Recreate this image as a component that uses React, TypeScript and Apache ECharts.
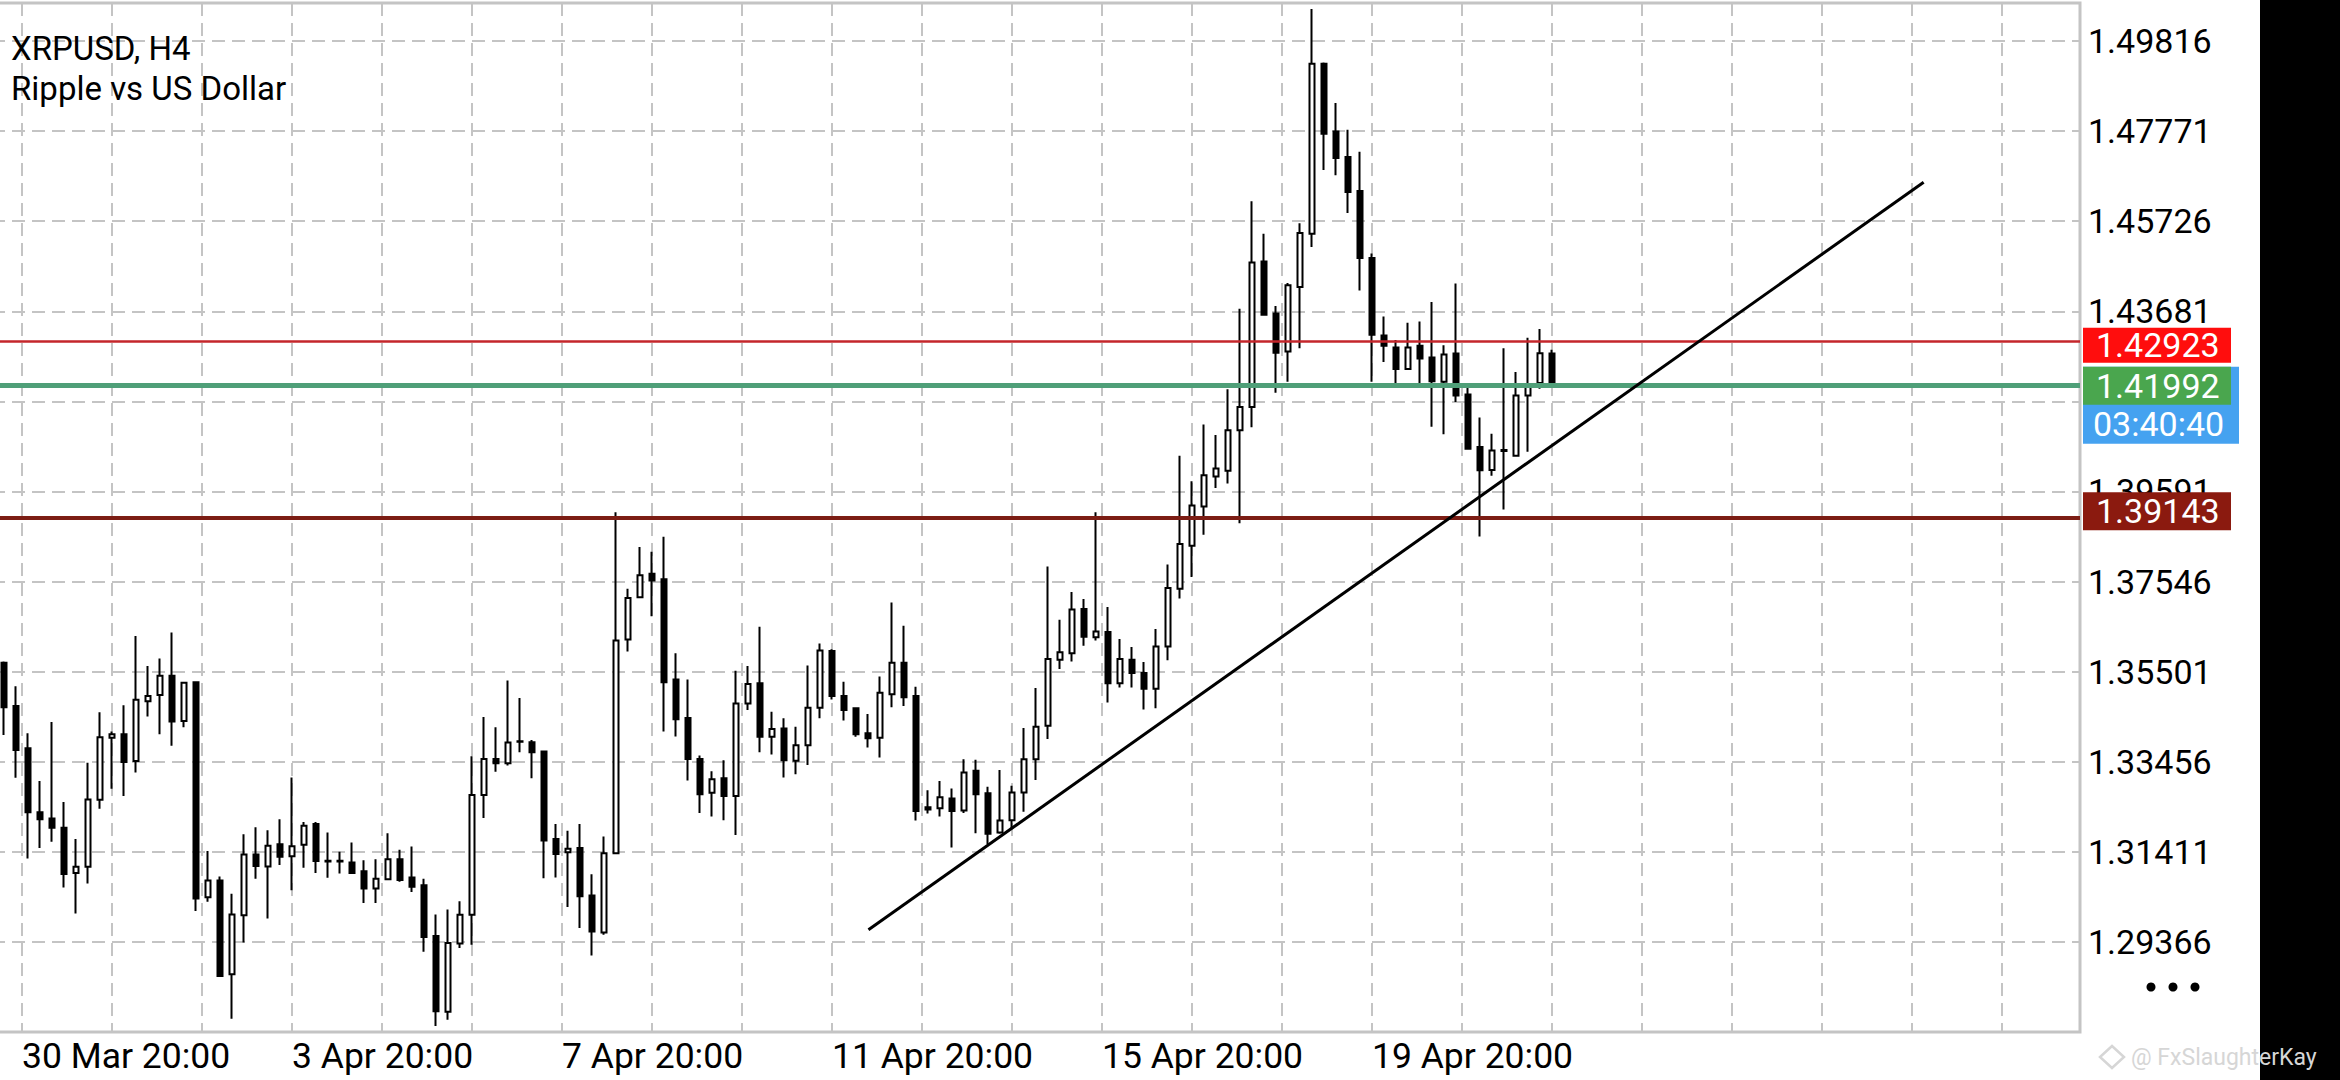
import React, { useEffect, useRef } from 'react';
import * as echarts from 'echarts';

// ---- Candle values (H4 bars, left to right) ----
const OPEN = [
  1.3570, 1.3472, 1.3376, 1.3231, 1.3217, 1.3196, 1.3093, 1.3107, 1.3259, 1.3400,
  1.3408, 1.3347, 1.3483, 1.3497, 1.3541, 1.3438, 1.3526, 1.3038, 1.3076, 1.2863,
  1.2997, 1.3135, 1.3108, 1.3158, 1.3131, 1.3157, 1.3204, 1.3121, 1.3121, 1.3117,
  1.3097, 1.3058, 1.3079, 1.3124, 1.3083, 1.3065, 1.2950, 1.2778, 1.2933, 1.2998,
  1.3270, 1.3352, 1.3342, 1.3391, 1.3390, 1.3369, 1.3170, 1.3140, 1.3150, 1.3042,
  1.2958, 1.3138, 1.3623, 1.3719, 1.3772, 1.3760, 1.3532, 1.3445, 1.3352, 1.3275,
  1.3308, 1.3268, 1.3478, 1.3524, 1.3402, 1.3421, 1.3348, 1.3383, 1.3468, 1.3597,
  1.3495, 1.3467, 1.3410, 1.3400, 1.3499, 1.3570, 1.3495, 1.3242, 1.3240, 1.3262,
  1.3235, 1.3325, 1.3274, 1.3185, 1.3213, 1.3276, 1.3351, 1.3427, 1.3577, 1.3592,
  1.3692, 1.3628, 1.3640, 1.3524, 1.3577, 1.3547, 1.3511, 1.3607, 1.3738, 1.3836,
  1.3925, 1.3993, 1.4006, 1.4098, 1.4151, 1.4481, 1.4363, 1.4277, 1.4423, 1.4544,
  1.4930, 1.4776, 1.4718, 1.4641, 1.4489, 1.4313, 1.4286, 1.4237, 1.4290, 1.4263,
  1.4208, 1.4272, 1.4179, 1.4060, 1.4008, 1.4053, 1.4040, 1.4177, 1.4205, 1.4272,
];
const CLOSE = [
  1.3469, 1.3372, 1.3231, 1.3215, 1.3196, 1.3091, 1.3107, 1.3260, 1.3401, 1.3408,
  1.3345, 1.3486, 1.3495, 1.3541, 1.3437, 1.3525, 1.3035, 1.3076, 1.2859, 1.2999,
  1.3135, 1.3109, 1.3155, 1.3130, 1.3154, 1.3200, 1.3120, 1.3119, 1.3119, 1.3093,
  1.3058, 1.3080, 1.3124, 1.3077, 1.3062, 1.2948, 1.2779, 1.2934, 1.2998, 1.3270,
  1.3352, 1.3342, 1.3389, 1.3392, 1.3367, 1.3167, 1.3136, 1.3148, 1.3040, 1.2960,
  1.3138, 1.3621, 1.3717, 1.3769, 1.3757, 1.3526, 1.3442, 1.3352, 1.3272, 1.3306,
  1.3268, 1.3478, 1.3522, 1.3402, 1.3420, 1.3349, 1.3383, 1.3468, 1.3598, 1.3495,
  1.3463, 1.3408, 1.3399, 1.3502, 1.3570, 1.3492, 1.3234, 1.3237, 1.3265, 1.3234,
  1.3321, 1.3272, 1.3182, 1.3212, 1.3276, 1.3351, 1.3425, 1.3579, 1.3594, 1.3691,
  1.3629, 1.3641, 1.3524, 1.3579, 1.3547, 1.3511, 1.3607, 1.3740, 1.3840, 1.3927,
  1.3996, 1.4011, 1.4098, 1.4151, 1.4479, 1.4360, 1.4274, 1.4427, 1.4546, 1.4930,
  1.4771, 1.4716, 1.4639, 1.4489, 1.4315, 1.4290, 1.4237, 1.4286, 1.4261, 1.4209,
  1.4270, 1.4177, 1.4056, 1.4007, 1.4052, 1.4051, 1.4177, 1.4196, 1.4273, 1.4199,
];
const LOW = [
  1.3406, 1.3309, 1.3126, 1.3150, 1.3164, 1.3060, 1.3001, 1.3069, 1.3239, 1.3284,
  1.3268, 1.3321, 1.3448, 1.3408, 1.3382, 1.3424, 1.3007, 1.3028, 1.2858, 1.2762,
  1.2935, 1.3080, 1.2990, 1.3111, 1.3054, 1.3105, 1.3093, 1.3082, 1.3092, 1.3092,
  1.3025, 1.3025, 1.3078, 1.3073, 1.3050, 1.2914, 1.2746, 1.2760, 1.2923, 1.2930,
  1.3218, 1.3323, 1.3337, 1.3367, 1.3308, 1.3081, 1.3083, 1.3016, 1.2968, 1.2906,
  1.2953, 1.3137, 1.3596, 1.3718, 1.3676, 1.3414, 1.3403, 1.3303, 1.3229, 1.3221,
  1.3213, 1.3179, 1.3463, 1.3367, 1.3362, 1.3310, 1.3317, 1.3338, 1.3444, 1.3487,
  1.3439, 1.3402, 1.3378, 1.3355, 1.3469, 1.3472, 1.3212, 1.3228, 1.3221, 1.3151,
  1.3229, 1.3183, 1.3159, 1.3182, 1.3194, 1.3232, 1.3304, 1.3397, 1.3556, 1.3573,
  1.3609, 1.3621, 1.3480, 1.3514, 1.3514, 1.3464, 1.3467, 1.3576, 1.3716, 1.3765,
  1.3861, 1.3967, 1.3977, 1.3887, 1.4105, 1.4359, 1.4183, 1.4208, 1.4284, 1.4514,
  1.4689, 1.4677, 1.4591, 1.4415, 1.4208, 1.4253, 1.4198, 1.4236, 1.4196, 1.4106,
  1.4089, 1.4162, 1.4055, 1.3857, 1.3995, 1.3918, 1.4039, 1.4049, 1.4192, 1.4199,
];
const HIGH = [
  1.3573, 1.3517, 1.3410, 1.3302, 1.3436, 1.3254, 1.3170, 1.3343, 1.3458, 1.3414,
  1.3474, 1.3631, 1.3563, 1.3580, 1.3639, 1.3526, 1.3527, 1.3143, 1.3085, 1.3046,
  1.3181, 1.3197, 1.3190, 1.3215, 1.3310, 1.3209, 1.3209, 1.3185, 1.3141, 1.3162,
  1.3122, 1.3124, 1.3183, 1.3146, 1.3153, 1.3080, 1.2999, 1.3010, 1.3029, 1.3358,
  1.3447, 1.3424, 1.3530, 1.3490, 1.3395, 1.3370, 1.3204, 1.3189, 1.3204, 1.3090,
  1.3176, 1.3912, 1.3738, 1.3833, 1.3822, 1.3856, 1.3592, 1.3532, 1.3360, 1.3324,
  1.3349, 1.3552, 1.3563, 1.3652, 1.3459, 1.3444, 1.3425, 1.3564, 1.3614, 1.3601,
  1.3527, 1.3468, 1.3454, 1.3539, 1.3707, 1.3654, 1.3516, 1.3281, 1.3302, 1.3285,
  1.3351, 1.3350, 1.3289, 1.3327, 1.3291, 1.3422, 1.3513, 1.3789, 1.3668, 1.3731,
  1.3715, 1.3912, 1.3697, 1.3624, 1.3606, 1.3572, 1.3647, 1.3793, 1.4040, 1.3982,
  1.4111, 1.4087, 1.4191, 1.4374, 1.4618, 1.4544, 1.4380, 1.4432, 1.4568, 1.5054,
  1.4933, 1.4841, 1.4780, 1.4730, 1.4499, 1.4356, 1.4303, 1.4342, 1.4345, 1.4389,
  1.4291, 1.4431, 1.4198, 1.4127, 1.4090, 1.4284, 1.4230, 1.4308, 1.4328, 1.4281,
];

// ---- Price axis ----
const Y_MIN = 1.27321;
const Y_MAX = 1.50678;
const Y_STEP = 0.02045;

// ---- Time axis (bar units) ----
const X_MIN = -6;
const X_MAX = 173;
const X_STEP = 7.5;
const TIME_TICKS = [1.5, 24, 46.5, 69, 91.5, 114];
const TIME_LABELS = ['30 Mar 20:00', '3 Apr 20:00', '7 Apr 20:00', '11 Apr 20:00', '15 Apr 20:00', '19 Apr 20:00'];

// ---- Drawn objects ----
const TREND_X = [72.04, 159.97];
const TREND_Y = [1.2964, 1.4661];
const RESISTANCE = 1.42923;
const BID = 1.41992;
const SUPPORT = 1.39143;
const TIMER = '03:40:40';
const HIDDEN_PRICE_LABELS = [1.41636];

const TITLE_LINES = ['XRPUSD, H4', 'Ripple vs US Dollar'];
const WATERMARK = '@ FxSlaughterKay';

const FONT = 'Roboto';
const SHIFT = 68; // the chart canvas starts left of the page so the first grid cell is cut

export default function App() {
  const ref = useRef<HTMLDivElement>(null);

  useEffect(() => {
    if (!ref.current) return;
    const chart = echarts.init(ref.current, undefined, { renderer: 'svg' });

    const candles = OPEN.map((o, i) => [i, o, CLOSE[i], LOW[i], HIGH[i]]);
    const trend = TREND_X.map((x, i) => [x, TREND_Y[i]]);

    const option: any = {
      animation: false,
      backgroundColor: '#ffffff',
      textStyle: { fontFamily: FONT },
      title: {
        text: TITLE_LINES.join('\n'),
        left: 11 + SHIFT,
        top: 28,
        padding: 0,
        textStyle: { fontSize: 33, lineHeight: 40, fontWeight: 'normal', color: '#000', fontFamily: FONT },
      },
      grid: {
        left: 0,
        top: 3,
        width: 2148,
        height: 1029,
        show: true,
        borderColor: '#c4c4c4',
        borderWidth: 3,
        backgroundColor: '#ffffff',
      },
      xAxis: {
        type: 'value',
        min: X_MIN,
        max: X_MAX,
        interval: X_STEP,
        axisLine: { show: false },
        axisTick: { show: false },
        splitLine: { show: true, lineStyle: { color: '#c4c4c4', width: 2, type: [13, 7] } },
        axisLabel: {
          showMinLabel: false,
          showMaxLabel: false,
          align: 'left',
          margin: 6,
          fontSize: 35.5,
          color: '#000',
          fontFamily: FONT,
          formatter: (v: number) => {
            const k = TIME_TICKS.findIndex((t) => Math.abs(t - v) < 0.01);
            return k >= 0 ? TIME_LABELS[k] : '';
          },
        },
      },
      yAxis: {
        type: 'value',
        position: 'right',
        min: Y_MIN,
        max: Y_MAX,
        interval: Y_STEP,
        axisLine: { show: false },
        axisTick: { show: false },
        splitLine: { show: true, lineStyle: { color: '#c4c4c4', width: 2, type: [13, 7] } },
        axisLabel: {
          showMinLabel: false,
          showMaxLabel: false,
          margin: 8,
          fontSize: 34,
          color: '#000',
          fontFamily: FONT,
          formatter: (v: number) =>
            HIDDEN_PRICE_LABELS.some((h) => Math.abs(h - v) < 1e-6) ? '' : v.toFixed(5),
        },
      },
      series: [
        {
          type: 'candlestick',
          data: candles,
          encode: { x: 0, y: [1, 2, 3, 4] },
          barWidth: 6,
          itemStyle: {
            color: '#ffffff',
            color0: '#000000',
            borderColor: '#000000',
            borderColor0: '#000000',
            borderColorDoji: '#000000',
            borderWidth: 2,
          },
          markLine: {
            silent: true,
            symbol: ['none', 'none'],
            label: { show: false },
            z: 5,
            data: [
              { yAxis: RESISTANCE, lineStyle: { color: '#c4262b', width: 2.5, type: 'solid' } },
              { yAxis: BID, lineStyle: { color: '#4f9f78', width: 5, type: 'solid' } },
              { yAxis: SUPPORT, lineStyle: { color: '#7c1d14', width: 4, type: 'solid' } },
            ],
          },
        },
        {
          type: 'line',
          data: trend,
          symbol: 'none',
          z: 6,
          lineStyle: { color: '#000', width: 3 },
        },
      ],
    };

    chart.setOption(option);

    const py = (v: number) => chart.convertToPixel({ yAxisIndex: 0 }, v) as number;
    const yR = py(RESISTANCE);
    const yB = py(BID);
    const yS = py(SUPPORT);
    const X = (v: number) => v + SHIFT;
    const txt = (text: string, x: number, y: number, fill: string, size = 34) => ({
      type: 'text',
      z: 101,
      x: X(x),
      y,
      style: { text, fill, font: `${size}px ${FONT}`, verticalAlign: 'middle' },
    });

    chart.setOption({
      graphic: [
        { type: 'rect', z: 100, shape: { x: X(2083), y: yR - 17, width: 148, height: 35 }, style: { fill: '#ff0d0d' } },
        txt(RESISTANCE.toFixed(5), 2096, yR, '#ffffff'),
        { type: 'rect', z: 100, shape: { x: X(2083), y: yB - 19, width: 156, height: 77 }, style: { fill: '#45a2f0' } },
        { type: 'rect', z: 100, shape: { x: X(2083), y: yB - 19, width: 148, height: 38 }, style: { fill: '#4aa64e' } },
        txt(BID.toFixed(5), 2096, yB, '#ffffff'),
        txt(TIMER, 2093, yB + 38, '#ffffff'),
        { type: 'rect', z: 100, shape: { x: X(2083), y: yS - 19, width: 148, height: 38 }, style: { fill: '#8b1a0f' } },
        txt(SUPPORT.toFixed(5), 2096, yS, '#ffffff'),
        { type: 'circle', z: 100, shape: { cx: X(2151), cy: 987, r: 4.5 }, style: { fill: '#000' } },
        { type: 'circle', z: 100, shape: { cx: X(2173), cy: 987, r: 4.5 }, style: { fill: '#000' } },
        { type: 'circle', z: 100, shape: { cx: X(2195), cy: 987, r: 4.5 }, style: { fill: '#000' } },
        { type: 'rect', z: 100, shape: { x: X(2260), y: 0, width: 80, height: 1080 }, style: { fill: '#000' } },
        {
          type: 'polygon', z: 101,
          shape: { points: [[X(2112), 1046], [X(2124), 1057], [X(2112), 1068], [X(2100), 1057]] },
          style: { fill: 'none', stroke: '#d6d6d6', lineWidth: 2.5 },
        },
        txt(WATERMARK, 2131, 1057, '#d6d6d6', 23),
      ],
    });

    return () => chart.dispose();
  }, []);

  return (
    <div style={{ position: 'absolute', left: 0, top: 0, width: 2340, height: 1080, overflow: 'hidden', background: '#fff' }}>
      <div ref={ref} style={{ position: 'absolute', left: -SHIFT, top: 0, width: 2340 + SHIFT, height: 1080 }} />
    </div>
  );
}
